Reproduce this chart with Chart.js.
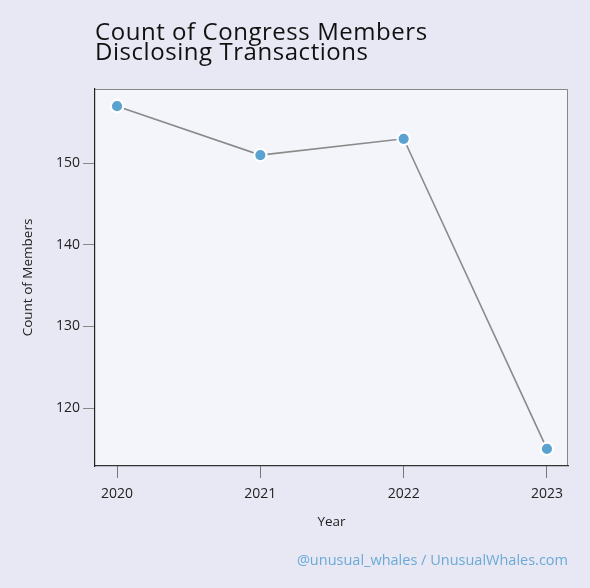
<!DOCTYPE html>
<html>
<head>
<meta charset="utf-8">
<script src="https://cdn.jsdelivr.net/npm/chart.js@4"></script>
<style>
  html, body { margin: 0; padding: 0; background: #e8e7f4; }
  #wrap { position: relative; width: 590px; height: 588px; }
  #title { position: absolute; left: 95px; top: 21px; font: 24px "Open Sans", sans-serif; letter-spacing: 0.55px; line-height: 20px; color: #111; }
  #credit { position: absolute; right: 22px; top: 550px; font: 14.5px "Open Sans", sans-serif; color: #6aaad6; }
</style>
</head>
<body>
<div id="wrap">
  <canvas id="mycanvas" width="590" height="588"></canvas>
  <div id="title">Count of Congress Members<br>Disclosing Transactions</div>
  <div id="credit">@unusual_whales / UnusualWhales.com</div>
</div>
<script>
var years = [2020, 2021, 2022, 2023];
var members = [157, 151, 153, 115];
var yTicks = [120, 130, 140, 150];

// plot area fill + top/right frame
var frame = {
  id: 'frame',
  beforeDraw: function(chart) {
    var a = chart.chartArea, c = chart.ctx;
    c.save();
    c.fillStyle = '#f4f4fb';
    c.fillRect(a.left, a.top, a.right - a.left, a.bottom - a.top);
    c.strokeStyle = '#888';
    c.lineWidth = 1;
    c.beginPath();
    c.moveTo(a.left, a.top + 0.5);
    c.lineTo(a.right - 0.5, a.top + 0.5);
    c.lineTo(a.right - 0.5, a.bottom);
    c.stroke();
    c.restore();
  }
};

var pts = [];
for (var i in years) {
  pts.push({ x: years[i], y: members[i] });
}

var ctx = document.getElementById('mycanvas');
new Chart(ctx, {
  type: 'line',
  data: {
    datasets: [{
      data: pts,
      borderColor: '#8a8a8a',
      borderWidth: 1.6,
      pointBackgroundColor: '#5aa3d0',
      pointBorderColor: '#ffffff',
      pointBorderWidth: 2.2,
      pointRadius: 6.2,
      tension: 0
    }]
  },
  options: {
    responsive: false,
    animation: false,
    layout: { padding: { left: 16, right: 22, top: 89, bottom: 54 } },
    plugins: { legend: { display: false }, tooltip: { enabled: false } },
    scales: {
      x: {
        type: 'linear',
        min: 2019.846,
        max: 2023.147,
        afterBuildTicks: function(s) { s.ticks = years.map(function(v) { return { value: v }; }); },
        afterFit: function(s) { s.height = 68; },
        ticks: { color: '#222', font: { family: 'Open Sans', size: 14 }, padding: 8, callback: function(v) { return String(v); } },
        grid: { drawOnChartArea: false, drawTicks: true, tickLength: 12, color: '#777' },
        border: { display: true, color: '#333', width: 1.2 },
        title: { display: true, text: 'Year', color: '#222', font: { family: 'Open Sans', size: 13.5 } }
      },
      y: {
        min: 112.9,
        max: 159.1,
        afterBuildTicks: function(s) { s.ticks = yTicks.map(function(v) { return { value: v }; }); },
        afterFit: function(s) { s.width = 79; },
        ticks: { color: '#222', font: { family: 'Open Sans', size: 14 }, padding: 3 },
        grid: { drawOnChartArea: false, drawTicks: true, tickLength: 12, color: '#888' },
        border: { display: true, color: '#222', width: 1.2 },
        title: { display: true, text: 'Count of Members', color: '#222', font: { family: 'Open Sans', size: 13.5 } }
      }
    }
  },
  plugins: [frame]
});
</script>
</body>
</html>
